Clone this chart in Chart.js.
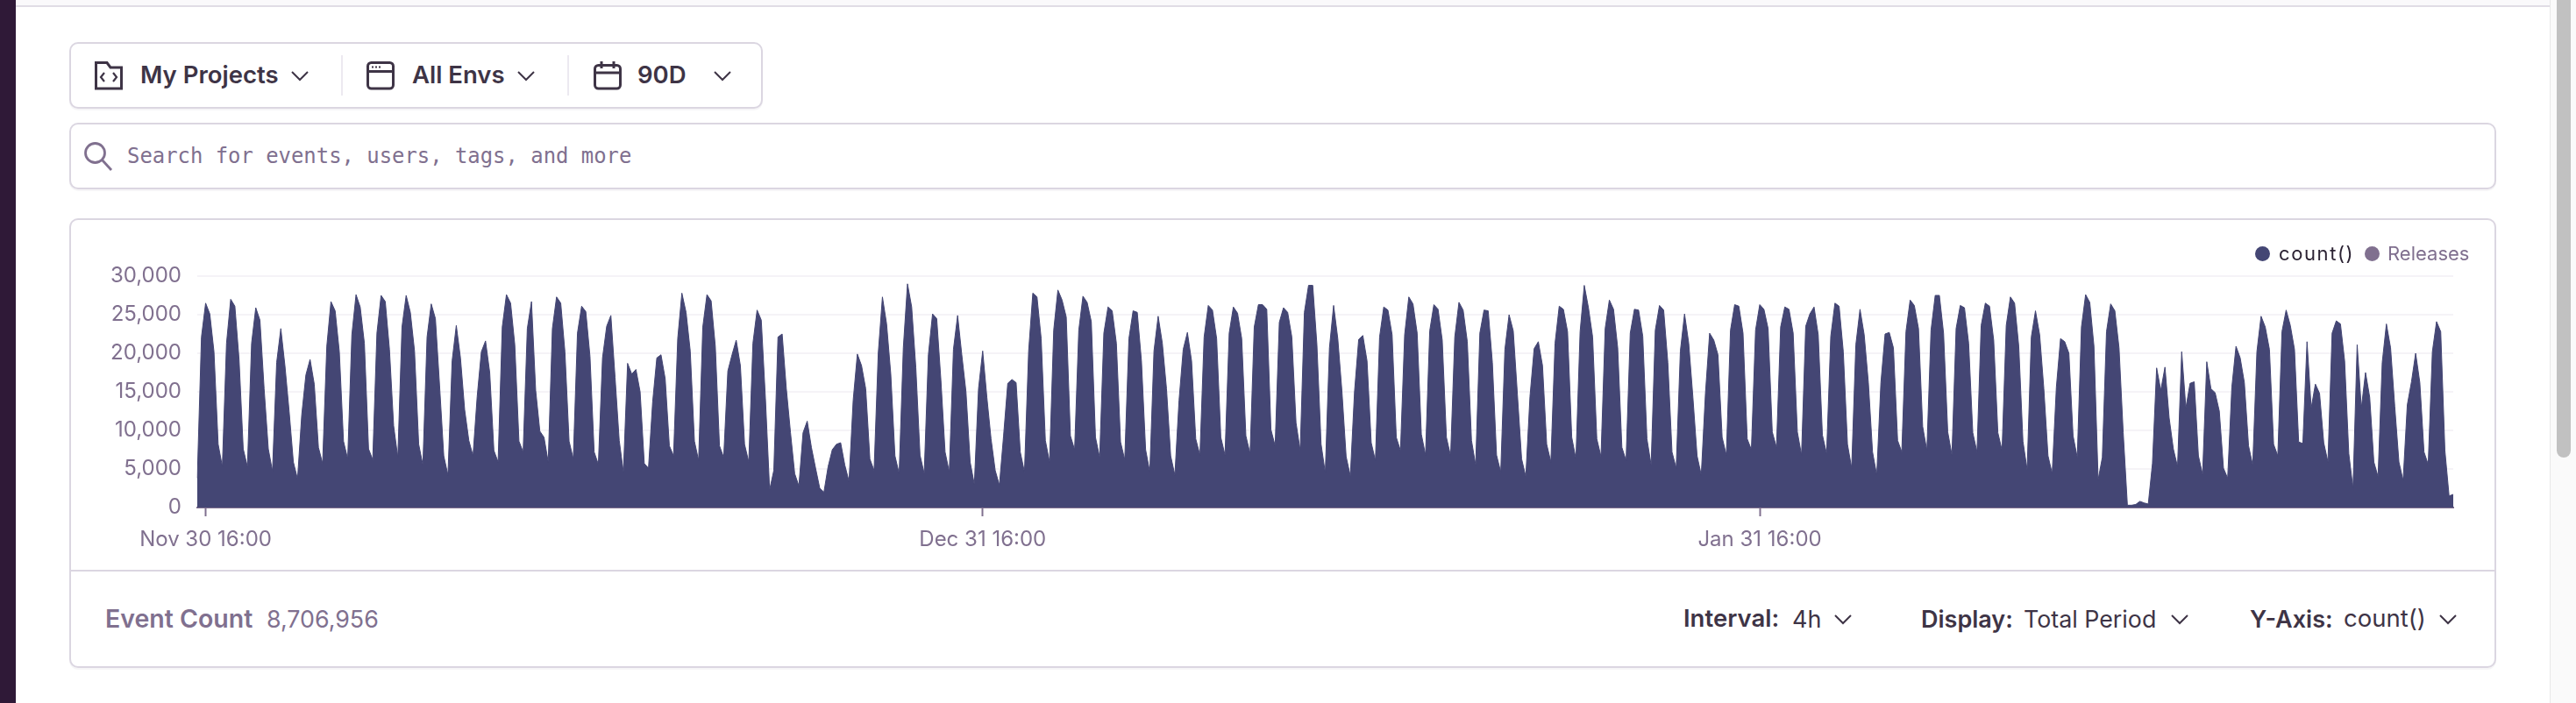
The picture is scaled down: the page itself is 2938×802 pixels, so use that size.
<!DOCTYPE html>
<html><head><meta charset="utf-8">
<script src="https://cdn.jsdelivr.net/npm/chart.js@4"></script>
<style>
html,body{margin:0;padding:0;background:#fff;width:2938px;height:802px;overflow:hidden;font-family:Inter,"Noto Sans",sans-serif;}
.abs,.t{position:absolute;}
.t{white-space:nowrap;line-height:1;transform:translateY(-50%);}
.box{position:absolute;box-sizing:border-box;border:2px solid #dbd6e1;border-radius:10px;background:#fff;box-shadow:0 2px 0 rgba(37,11,54,.04);}
svg{position:absolute;overflow:visible;fill:none;}
canvas{position:absolute;}
</style></head><body>
<div class="abs" style="left:0;top:0;width:18px;height:802px;background:#2f1937"></div>
<div class="abs" style="left:18px;top:0;width:2890px;height:6px;background:#faf9fb;border-bottom:2px solid #e0dce5"></div>
<div class="abs" style="left:2908px;top:0;width:30px;height:802px;background:#fafafa;border-left:1px solid #e8e8e8;box-sizing:border-box"></div>
<div class="abs" style="left:2916px;top:0;width:16px;height:522px;background:#c1c1c1;border-radius:0 0 8px 8px"></div>

<div class="box" style="left:79px;top:48px;width:791px;height:76px"></div>
<div class="abs" style="left:389px;top:63px;width:2px;height:46px;background:#ece9f0"></div>
<div class="abs" style="left:647px;top:63px;width:2px;height:46px;background:#ece9f0"></div>
<svg style="left:108px;top:70px" width="32" height="32" stroke="#3e3446" stroke-width="3"><path d="M1.5 31V1.5H14L18 7H30.5V31Z"/><path d="M11 13l-4 5 4 5M21 13l4 5-4 5" stroke-width="2.2"/></svg>
<div class="t" style="left:160px;top:86px;font-size:27.5px;font-weight:600;color:#3e3446">My Projects</div>
<svg style="left:332px;top:81px" width="20" height="11" stroke="#3e3446" stroke-width="2"><path d="M1 1l9 9 9-9"/></svg>
<svg style="left:418px;top:70px" width="32" height="32" stroke="#3e3446" stroke-width="3"><rect x="1.5" y="1.5" width="29" height="29.5" rx="4"/><path d="M1.5 11.5H30.5"/><path d="M6 6.5h2M10 6.5h2M14 6.5h2" stroke-width="2"/></svg>
<div class="t" style="left:470px;top:86px;font-size:27.5px;font-weight:600;color:#3e3446">All Envs</div>
<svg style="left:590px;top:81px" width="20" height="11" stroke="#3e3446" stroke-width="2"><path d="M1 1l9 9 9-9"/></svg>
<svg style="left:677px;top:70px" width="32" height="32" stroke="#3e3446" stroke-width="3"><rect x="1.5" y="4.5" width="29" height="26.5" rx="4"/><path d="M1.5 13H30.5M9 0V8M23 0V8"/></svg>
<div class="t" style="left:727px;top:86px;font-size:27.5px;font-weight:600;color:#3e3446">90D</div>
<svg style="left:814px;top:81px" width="20" height="11" stroke="#3e3446" stroke-width="2"><path d="M1 1l9 9 9-9"/></svg>

<div class="box" style="left:79px;top:140px;width:2768px;height:76px"></div>
<svg style="left:96px;top:162px" width="32" height="32" stroke="#80708f" stroke-width="2.8"><circle cx="12.5" cy="12.5" r="11"/><path d="M20.5 20.5L31 32"/></svg>
<div class="t" style="left:145px;top:179px;font-family:'DejaVu Sans Mono',monospace;font-size:23.9px;color:#80708f">Search for events, users, tags, and more</div>

<div class="box" style="left:79px;top:249px;width:2768px;height:513px"></div>
<div class="abs" style="left:81px;top:650px;width:2764px;height:2px;background:#dbd6e1"></div>
<canvas id="chart" style="left:81px;top:251px" width="2764" height="398"></canvas>
<div id="legend"></div>

<div class="t" style="left:120px;top:706px;font-size:28.5px;font-weight:600;color:#80708f">Event Count</div>
<div class="t" style="left:304px;top:706px;font-size:26.8px;color:#80708f">8,706,956</div>
<div class="t" style="left:1920px;top:706px;font-size:27.5px;font-weight:600;color:#3e3446">Interval:</div>
<div class="t" style="left:2044px;top:706px;font-size:27px;color:#3e3446">4h</div>
<svg style="left:2092px;top:701px" width="20" height="11" stroke="#3e3446" stroke-width="2"><path d="M1 1l9 9 9-9"/></svg>
<div class="t" style="left:2191px;top:706px;font-size:27px;font-weight:600;color:#3e3446">Display:</div>
<div class="t" style="left:2308px;top:706px;font-size:26.8px;color:#3e3446">Total Period</div>
<svg style="left:2476px;top:701px" width="20" height="11" stroke="#3e3446" stroke-width="2"><path d="M1 1l9 9 9-9"/></svg>
<div class="t" style="left:2566px;top:706px;font-size:27px;font-weight:600;color:#3e3446">Y-Axis:</div>
<div class="t" style="left:2673px;top:706px;font-size:27.5px;color:#3e3446">count()</div>
<svg style="left:2782px;top:701px" width="20" height="11" stroke="#3e3446" stroke-width="2"><path d="M1 1l9 9 9-9"/></svg>

<script>
const tickLabels = ["Nov 30 16:00", "Dec 31 16:00", "Jan 31 16:00"];
const seriesNames = ["count()", "Releases"];
const yTicks = [0, 5000, 10000, 15000, 20000, 25000, 30000];
const countValues = [3800,
22100,26500,25100,20200,8200,5300,
21300,27000,26100,19200,7600,5300,
21300,25900,24300,15400,7600,4700,
18800,23200,18300,12400,5900,3700,
12000,17200,19200,16000,7800,5700,
20900,26700,25500,20200,8600,6300,
22400,27600,26000,21300,7600,6200,
22600,27500,26700,20500,10600,6500,
23400,27500,25300,20300,8200,5500,
22100,26400,24500,15800,6700,4200,
19000,23600,19400,12700,8700,6700,
14400,20200,21600,17500,7400,5900,
23400,27600,26500,21100,8600,7200,
23200,26700,15200,9900,9100,5900,
23200,27300,26500,20200,8600,6300,
22600,26100,25400,19600,7200,5600,
19400,23500,24900,16900,8700,4600,
18700,17300,17900,15000,5700,5100,
13700,19400,19800,16700,8000,6700,
21900,27800,25300,20300,8600,6100,
23400,27600,26800,20900,8000,6500,
17700,19800,21700,18400,8200,5900,
21300,25600,24300,14100,2300,4800,
22100,22500,15400,9700,4400,2800,
9700,11200,7800,5100,2500,2000,
5300,7500,8200,8400,5500,3400,
13900,19900,18400,15400,6300,4800,
20000,27300,23800,17300,6700,4400,
20700,29000,26000,18100,6800,4400,
19800,25100,24500,16500,7200,4600,
20500,24900,19800,15000,5900,3000,
15400,20300,14300,8900,4800,2900,
9300,16100,16600,16200,7200,4600,
20300,27800,27300,21900,8700,5900,
23000,28200,26900,24700,9300,7500,
23000,27400,26600,24100,9100,6500,
22600,26000,25500,21300,8500,6200,
21900,25500,25300,19000,7500,4600,
20300,24800,21300,15400,6700,4200,
13900,20500,22700,19000,8900,6800,
22100,26200,25600,21900,9100,6800,
22600,26000,25200,21900,9300,7000,
23400,26300,26300,25700,10100,8000,
24000,25900,25300,22100,11000,7400,
25300,28800,28800,21100,8200,4500,
20700,26200,21900,15000,6600,4100,
15000,21800,22300,19000,8400,6100,
22100,26000,25600,22400,9100,7400,
22400,27300,26400,22600,9500,6800,
22900,26300,25700,21700,9100,6700,
22100,26600,25600,21500,8700,5500,
22600,25600,25500,18800,6800,4600,
20500,25000,22900,14600,6300,4000,
14400,20600,21500,18400,8200,5900,
21300,26100,25700,22800,9100,6300,
22800,28800,25900,22100,8900,6600,
23200,26900,25700,20700,7800,6100,
22600,25700,25600,22200,8900,5500,
23000,26200,25600,18800,7200,5100,
20300,25100,21300,14300,6700,4200,
14800,22600,21700,19800,9100,6800,
23000,26300,26100,22600,8900,7500,
23000,26300,25700,23200,9800,7800,
23400,26000,25700,22600,9800,6800,
23500,25100,26000,22400,9400,7000,
22200,26500,26100,20200,8200,5100,
21100,25700,22400,16200,7200,4200,
16200,22500,22700,20700,8700,7200,
22800,26900,26200,23200,10500,7400,
23000,27500,27500,22600,9800,6800,
23200,26200,25900,21300,9700,7200,
23600,26500,26100,21700,9700,7400,
23600,27300,26500,20900,8600,4900,
22100,25500,22400,15400,6700,4400,
15600,21900,21500,20000,9300,6500,
23400,27600,26600,20900,3600,6500,
22800,26400,25500,20700,9700,300,
300,400,800,600,450,5700,
18100,15200,18200,11600,7600,5300,
20200,12900,16100,16300,6700,4300,
18900,15400,14900,12500,5100,3800,
15600,20900,19400,16200,8000,5500,
20200,24800,23400,20500,8200,6700,
22800,25600,23600,20500,8500,8300,
21500,12900,16000,14800,8400,5900,
22600,24200,23800,19000,7000,2500,
21100,12900,17500,14300,5900,4000,
18800,23800,20700,13100,5900,3500,
13300,16300,20000,16200,7200,5600,
20200,24100,22800,7400,1500,1700];
const startMs = Date.UTC(2023, 10, 30, 8);
const monthNames = ["Jan","Feb","Mar","Apr","May","Jun","Jul","Aug","Sep","Oct","Nov","Dec"];
const categories = countValues.map((_, i) => {
  const d = new Date(startMs + i * 4 * 3600 * 1000);
  return monthNames[d.getUTCMonth()] + " " + d.getUTCDate() + " " + String(d.getUTCHours()).padStart(2,"0") + ":00";
});

const MUTED = "#80708f", SERIES = "#444674";
const chart = new Chart(document.getElementById("chart"), {
  type: "line",
  data: { labels: categories, datasets: [
    { label: seriesNames[0], data: countValues, backgroundColor: SERIES, borderColor: SERIES, borderWidth: 1, fill: "origin", tension: 0, pointRadius: 0 },
    { label: seriesNames[1], data: [], backgroundColor: MUTED, borderColor: MUTED, pointRadius: 0 }
  ]},
  options: {
    responsive: false, animation: false, devicePixelRatio: 1,
    layout: { padding: { left: 0, right: 47, top: 64, bottom: 0 } },
    plugins: { legend: { display: false }, tooltip: { enabled: false } },
    scales: {
      x: {
        type: "category",
        border: { color: MUTED, width: 2 },
        grid: { drawOnChartArea: false, tickColor: MUTED, tickWidth: 2, tickLength: 10 },
        ticks: { autoSkip: false, maxRotation: 0, color: MUTED, font: { family: "Inter", size: 24 }, padding: 12 },
        afterBuildTicks: s => { s.ticks = tickLabels.map(l => ({ value: categories.indexOf(l) })); },
        afterFit: s => { s.height = 398 - 328; }
      },
      y: {
        min: 0, max: 30000,
        afterBuildTicks: s => { s.ticks = yTicks.map(v => ({ value: v })); },
        border: { display: false },
        grid: { color: "#f5f3f7", lineWidth: 2, drawTicks: false },
        ticks: { color: MUTED, font: { family: "Inter", size: 24 }, padding: 18, callback: v => v.toLocaleString("en-US") },
        afterFit: s => { s.width = 144; }
      }
    }
  }
});

// HTML legend built from the chart's datasets
const legendSpots = [[2572, 2599, "#2b2233", "1.6px"], [2697, 2723, MUTED, "0"]];
chart.data.datasets.forEach((ds, i) => {
  const [dotX, textX, col, spacing] = legendSpots[i];
  const host = document.getElementById("legend");
  const dot = document.createElement("div");
  dot.className = "abs";
  dot.style.cssText = `left:${dotX}px;top:281px;width:17px;height:17px;border-radius:50%;background:${ds.backgroundColor}`;
  const txt = document.createElement("div");
  txt.className = "t";
  txt.textContent = ds.label;
  txt.style.cssText = `left:${textX}px;top:289px;font-size:22px;letter-spacing:${spacing};color:${col}`;
  host.append(dot, txt);
});
</script>
</body></html>
